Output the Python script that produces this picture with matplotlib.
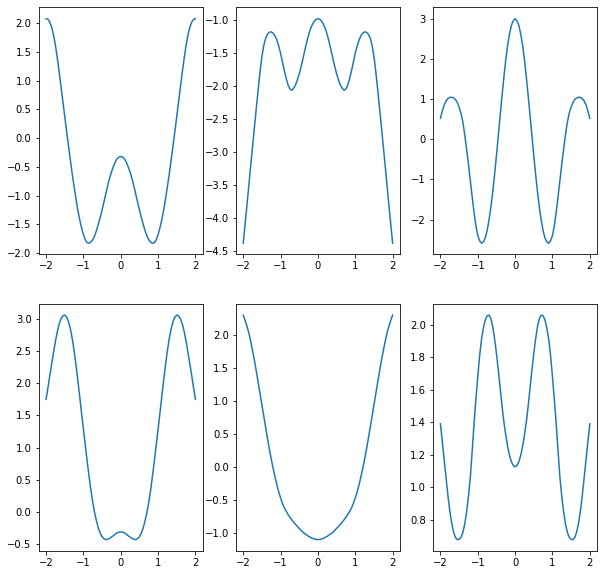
from matplotlib import pyplot as plt

# sample points, x from -2 to 2 in steps of 0.05
x = [-2.0, -1.95, -1.9, -1.85, -1.8, -1.75, -1.7, -1.65, -1.6, -1.55,
     -1.5, -1.45, -1.4, -1.35, -1.3, -1.25, -1.2, -1.15, -1.1, -1.05,
     -1.0, -0.95, -0.9, -0.85, -0.8, -0.75, -0.7, -0.65, -0.6, -0.55,
     -0.5, -0.45, -0.4, -0.35, -0.3, -0.25, -0.2, -0.15, -0.1, -0.05,
     0.0, 0.05, 0.1, 0.15, 0.2, 0.25, 0.3, 0.35, 0.4, 0.45,
     0.5, 0.55, 0.6, 0.65, 0.7, 0.75, 0.8, 0.85, 0.9, 0.95,
     1.0, 1.05, 1.1, 1.15, 1.2, 1.25, 1.3, 1.35, 1.4, 1.45,
     1.5, 1.55, 1.6, 1.65, 1.7, 1.75, 1.8, 1.85, 1.9, 1.95, 2.0]

# curve values (one list per panel)
y1 = [2.08, 2.07, 2.02, 1.93, 1.80, 1.62, 1.40, 1.16, 0.90, 0.64,
      0.38, 0.12, -0.13, -0.38, -0.62, -0.84, -1.05, -1.25, -1.42, -1.56,
      -1.68, -1.77, -1.82, -1.83, -1.81, -1.77, -1.70, -1.61, -1.50, -1.38,
      -1.25, -1.11, -0.97, -0.83, -0.70, -0.59, -0.50, -0.42, -0.36, -0.33,
      -0.32, -0.33, -0.36, -0.42, -0.50, -0.59, -0.70, -0.83, -0.97, -1.11,
      -1.25, -1.38, -1.50, -1.61, -1.70, -1.77, -1.81, -1.83, -1.82, -1.77,
      -1.68, -1.56, -1.42, -1.25, -1.05, -0.84, -0.62, -0.38, -0.13, 0.12,
      0.38, 0.64, 0.90, 1.16, 1.40, 1.62, 1.80, 1.93, 2.02, 2.07, 2.08]
y2 = [-4.38, -4.09, -3.80, -3.50, -3.20, -2.91, -2.62, -2.33, -2.05, -1.78,
      -1.55, -1.38, -1.27, -1.21, -1.18, -1.175, -1.195, -1.235, -1.30, -1.39,
      -1.50, -1.63, -1.76, -1.88, -1.98, -2.04, -2.06, -2.03, -1.98, -1.90,
      -1.81, -1.70, -1.58, -1.45, -1.33, -1.22, -1.13, -1.065, -1.015, -0.985,
      -0.975, -0.985, -1.015, -1.065, -1.13, -1.22, -1.33, -1.45, -1.58, -1.70,
      -1.81, -1.90, -1.98, -2.03, -2.06, -2.04, -1.98, -1.88, -1.76, -1.63,
      -1.50, -1.39, -1.30, -1.235, -1.195, -1.175, -1.18, -1.21, -1.27, -1.38,
      -1.55, -1.78, -2.05, -2.33, -2.62, -2.91, -3.20, -3.50, -3.80, -4.09, -4.38]
y3 = [0.52, 0.70, 0.85, 0.95, 1.01, 1.04, 1.045, 1.03, 0.99, 0.92,
      0.80, 0.65, 0.43, 0.12, -0.24, -0.62, -1.03, -1.43, -1.82, -2.15,
      -2.40, -2.53, -2.59, -2.56, -2.46, -2.28, -2.02, -1.70, -1.32, -0.88,
      -0.41, 0.09, 0.59, 1.08, 1.55, 1.98, 2.34, 2.62, 2.83, 2.95,
      3.00, 2.95, 2.83, 2.62, 2.34, 1.98, 1.55, 1.08, 0.59, 0.09,
      -0.41, -0.88, -1.32, -1.70, -2.02, -2.28, -2.46, -2.56, -2.59, -2.53,
      -2.40, -2.15, -1.82, -1.43, -1.03, -0.62, -0.24, 0.12, 0.43, 0.65,
      0.80, 0.92, 0.99, 1.03, 1.045, 1.04, 1.01, 0.95, 0.85, 0.70, 0.52]
y4 = [1.75, 1.93, 2.12, 2.30, 2.48, 2.65, 2.80, 2.92, 3.00, 3.05,
      3.06, 3.03, 2.96, 2.85, 2.70, 2.51, 2.29, 2.05, 1.80, 1.54,
      1.29, 1.04, 0.79, 0.56, 0.34, 0.15, -0.01, -0.14, -0.25, -0.33,
      -0.385, -0.415, -0.43, -0.425, -0.41, -0.39, -0.37, -0.345, -0.325, -0.315,
      -0.31, -0.315, -0.325, -0.345, -0.37, -0.39, -0.41, -0.425, -0.43, -0.415,
      -0.385, -0.33, -0.25, -0.14, -0.01, 0.15, 0.34, 0.56, 0.79, 1.04,
      1.29, 1.54, 1.80, 2.05, 2.29, 2.51, 2.70, 2.85, 2.96, 3.03,
      3.06, 3.05, 3.00, 2.92, 2.80, 2.65, 2.48, 2.30, 2.12, 1.93, 1.75]
y5 = [2.30, 2.22, 2.13, 2.03, 1.90, 1.76, 1.61, 1.45, 1.28, 1.11,
      0.94, 0.77, 0.60, 0.43, 0.27, 0.12, -0.02, -0.15, -0.27, -0.38,
      -0.47, -0.55, -0.62, -0.67, -0.72, -0.76, -0.80, -0.835, -0.87, -0.90,
      -0.93, -0.96, -0.99, -1.01, -1.03, -1.05, -1.065, -1.08, -1.09, -1.097,
      -1.10, -1.097, -1.09, -1.08, -1.065, -1.05, -1.03, -1.01, -0.99, -0.96,
      -0.93, -0.90, -0.87, -0.835, -0.80, -0.76, -0.72, -0.67, -0.62, -0.55,
      -0.47, -0.38, -0.27, -0.15, -0.02, 0.12, 0.27, 0.43, 0.60, 0.77,
      0.94, 1.11, 1.28, 1.45, 1.61, 1.76, 1.90, 2.03, 2.13, 2.22, 2.30]
y6 = [1.39, 1.28, 1.17, 1.06, 0.95, 0.855, 0.78, 0.725, 0.69, 0.676,
      0.678, 0.69, 0.72, 0.77, 0.845, 0.94, 1.06, 1.22, 1.39, 1.54,
      1.68, 1.81, 1.91, 1.98, 2.03, 2.055, 2.06, 2.04, 1.99, 1.915,
      1.825, 1.72, 1.61, 1.50, 1.40, 1.32, 1.25, 1.195, 1.156, 1.133,
      1.125, 1.133, 1.156, 1.195, 1.25, 1.32, 1.40, 1.50, 1.61, 1.72,
      1.825, 1.915, 1.99, 2.04, 2.06, 2.055, 2.03, 1.98, 1.91, 1.81,
      1.68, 1.54, 1.39, 1.22, 1.06, 0.94, 0.845, 0.77, 0.72, 0.69,
      0.678, 0.676, 0.69, 0.725, 0.78, 0.855, 0.95, 1.06, 1.17, 1.28, 1.39]

curves = [y1, y2, y3, y4, y5, y6]

fig, axes = plt.subplots(2, 3, figsize=(603 / 72, 575 / 72), dpi=72)
fig.subplots_adjust(left=0.064, right=0.9905, bottom=0.042, top=0.987,
                    wspace=0.2, hspace=0.2)

for ax, y in zip(axes.flat, curves):
    ax.plot(x, y)
    ax.set_xticks([-2, -1, 0, 1, 2])

fig.savefig('out.png', dpi=72)
